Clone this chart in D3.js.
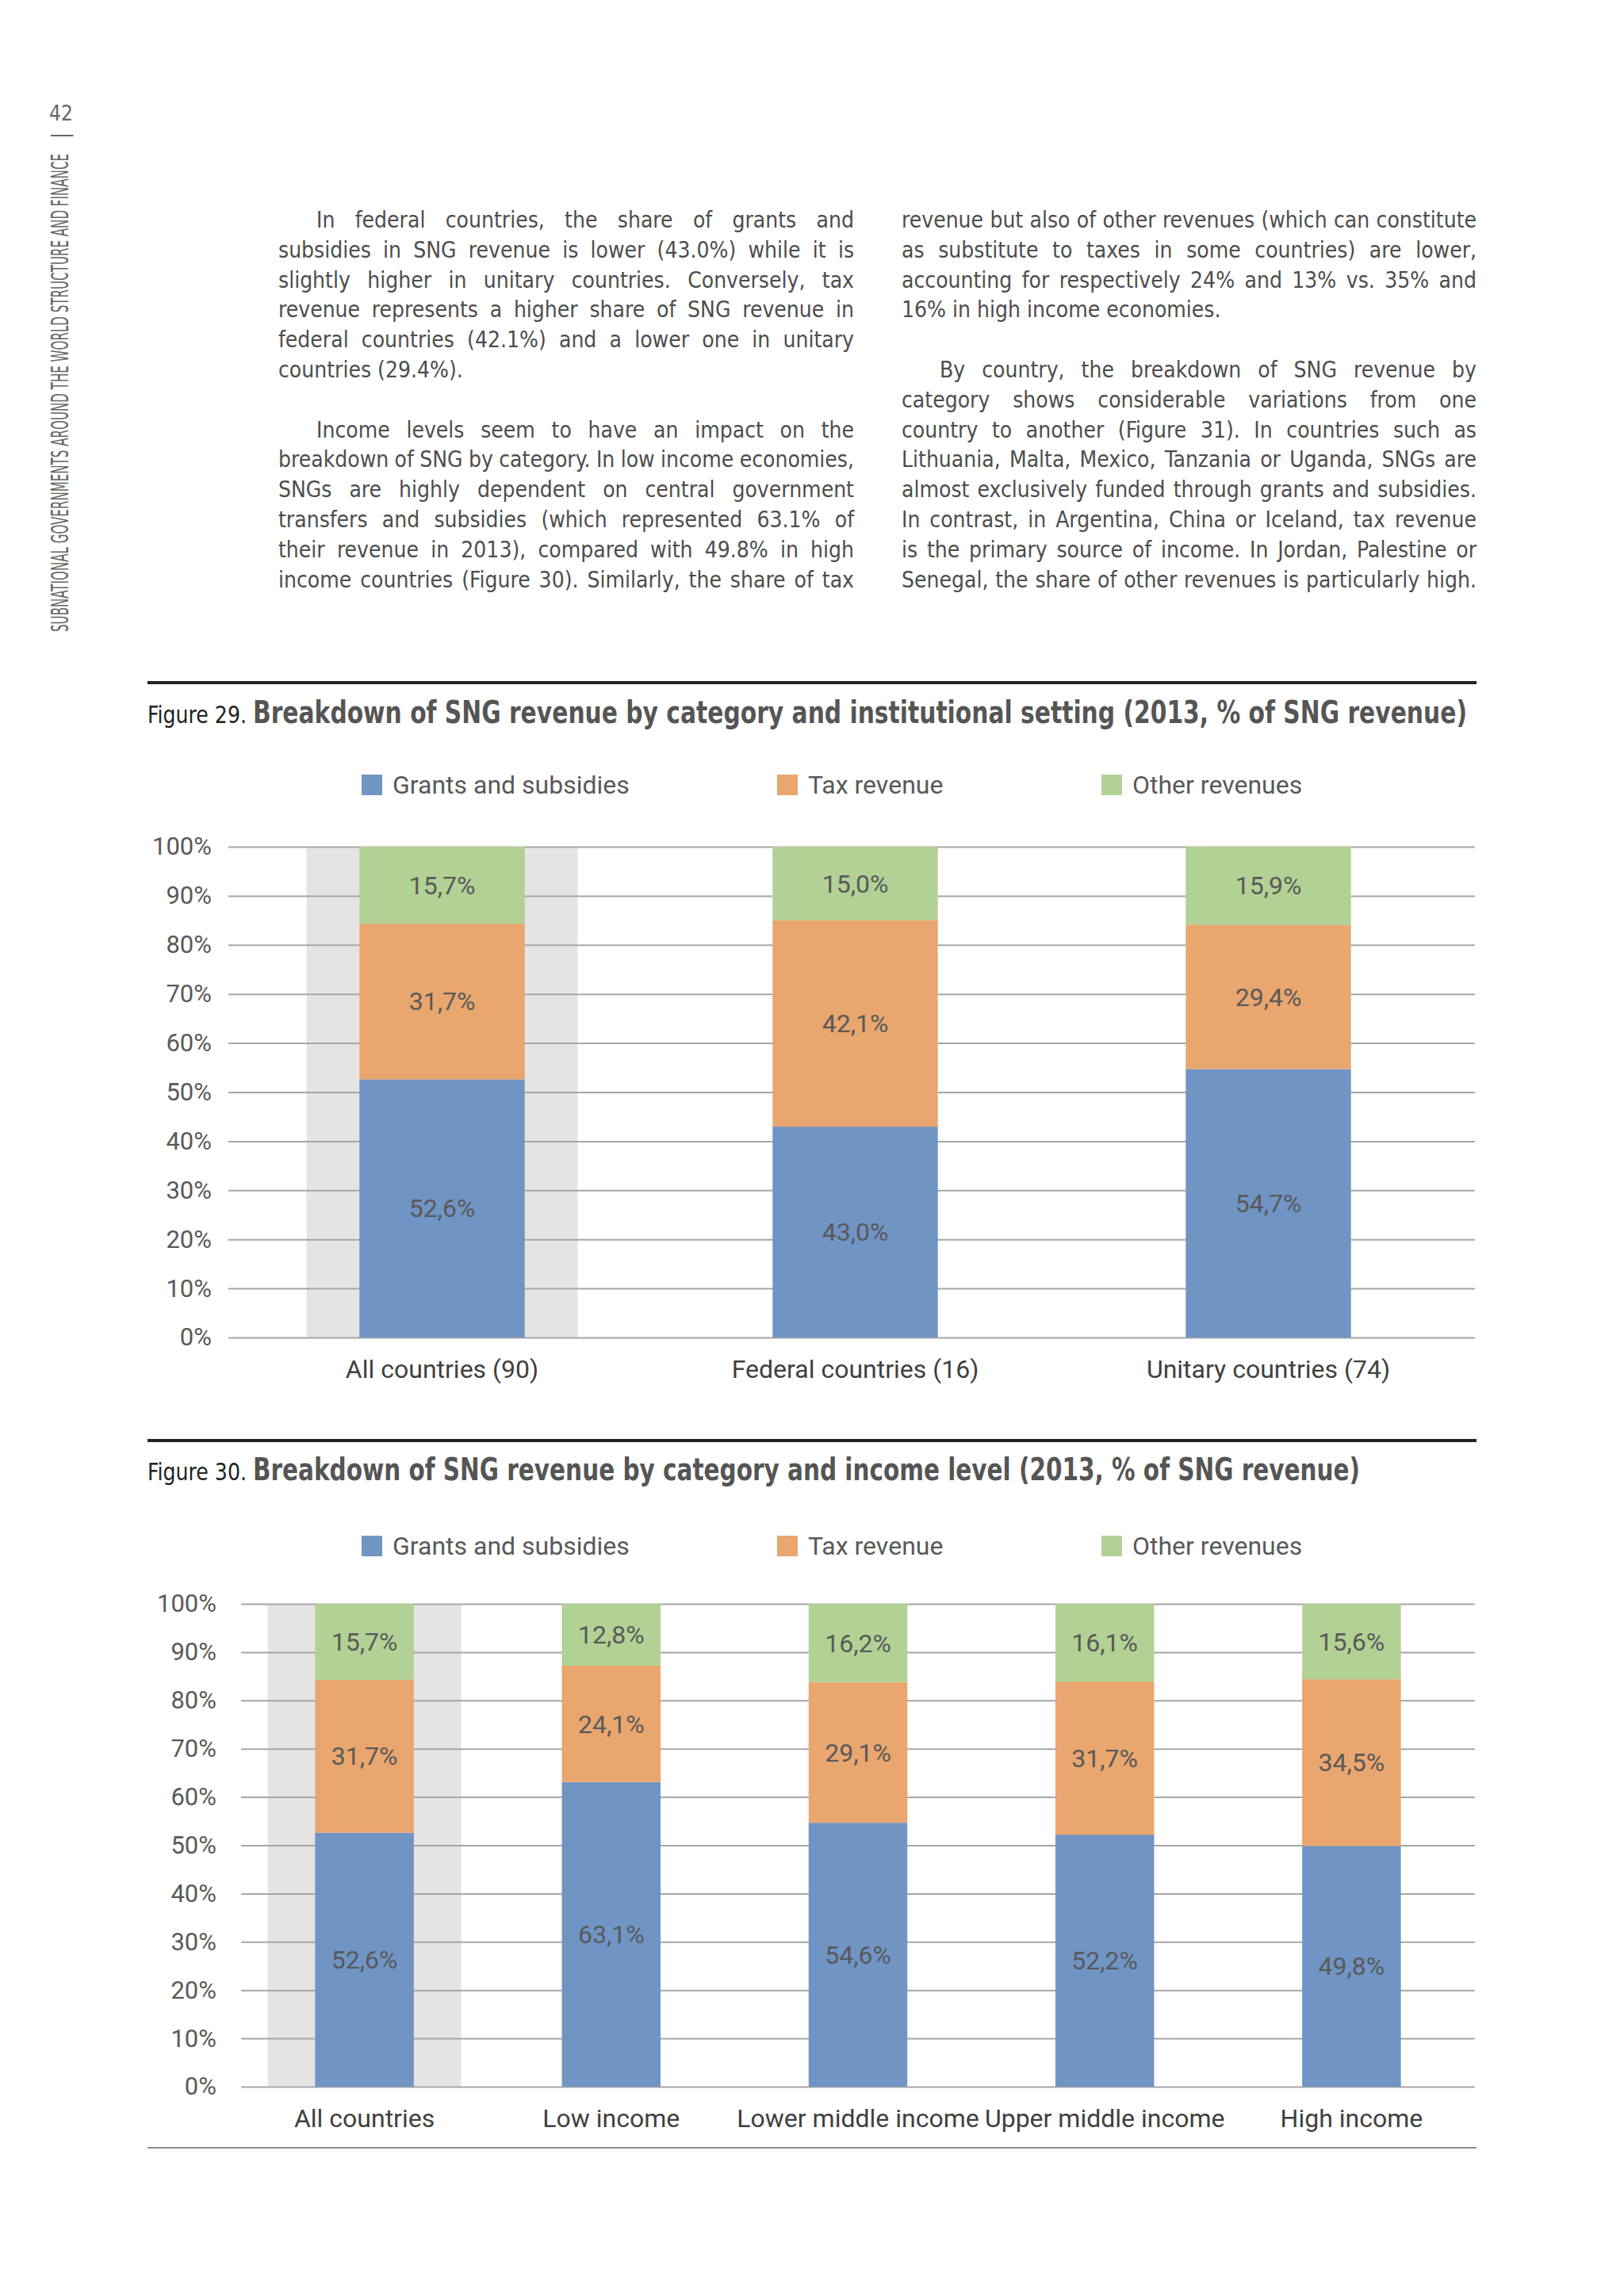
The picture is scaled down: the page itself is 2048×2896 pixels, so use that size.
<!DOCTYPE html>
<html>
<head>
<meta charset="utf-8">
<script src="https://cdn.jsdelivr.net/npm/d3@7"></script>
<style>
  body { margin: 0; background: #fff; }
  svg { display: block; }
</style>
</head>
<body>
<script>
// series names (legend)
const seriesKeys = ["grants", "tax", "other"]
const seriesNames = ["Grants and subsidies", "Tax revenue", "Other revenues"]
const seriesColors = ["#7094c4", "#e9a66e", "#b2d194"]

// figure 29 - institutional setting
const fig29Categories = ["All countries (90)", "Federal countries (16)", "Unitary countries (74)"]
const fig29Grants = [52.6, 43.0, 54.7]
const fig29Tax = [31.7, 42.1, 29.4]
const fig29Other = [15.7, 15.0, 15.9]

// figure 30 - income level
const fig30Categories = ["All countries", "Low income", "Lower middle income", "Upper middle income", "High income"]
const fig30Grants = [52.6, 63.1, 54.6, 52.2, 49.8]
const fig30Tax = [31.7, 24.1, 29.1, 31.7, 34.5]
const fig30Other = [15.7, 12.8, 16.2, 16.1, 15.6]

const yTicks = [0, 10, 20, 30, 40, 50, 60, 70, 80, 90, 100]

// body text, one entry per printed line
const leftColumn = [
  ["In federal countries, the share of grants and", "subsidies in SNG revenue is lower (43.0%) while it is", "slightly higher in unitary countries. Conversely, tax", "revenue represents a higher share of SNG revenue in", "federal countries (42.1%) and a lower one in unitary", "countries (29.4%)."],
  ["Income levels seem to have an impact on the", "breakdown of SNG by category. In low income economies,", "SNGs are highly dependent on central government", "transfers and subsidies (which represented 63.1% of", "their revenue in 2013), compared with 49.8% in high", "income countries (Figure 30). Similarly, the share of tax"]
]
const rightColumn = [
  ["revenue but also of other revenues (which can constitute", "as substitute to taxes in some countries) are lower,", "accounting for respectively 24% and 13% vs. 35% and", "16% in high income economies."],
  ["By country, the breakdown of SNG revenue by", "category shows considerable variations from one", "country to another (Figure 31). In countries such as", "Lithuania, Malta, Mexico, Tanzania or Uganda, SNGs are", "almost exclusively funded through grants and subsidies.", "In contrast, in Argentina, China or Iceland, tax revenue", "is the primary source of income. In Jordan, Palestine or", "Senegal, the share of other revenues is particularly high."]
]
// first line indented? / last line runs to the right margin?
const leftIndented = [true, true]
const rightIndented = [false, true]
const leftLastJustified = [false, true]
const rightLastJustified = [false, true]

const chartFont = "Roboto, 'Noto Sans', sans-serif"
const condFont = "'Liberation Sans Narrow', 'DejaVu Sans Condensed', sans-serif"

const svg = d3.select("body").append("svg")
  .attr("width", 2048)
  .attr("height", 2896)

// ---------- side header ----------
svg.append("text")
  .attr("x", 77).attr("y", 152)
  .attr("text-anchor", "middle")
  .style("font-family", condFont)
  .style("font-size", "26px")
  .style("fill", "#666")
  .text("42")

svg.append("text")
  .attr("transform", "translate(86,171) rotate(-90)")
  .attr("text-anchor", "middle")
  .style("font-family", condFont)
  .style("font-size", "28px")
  .style("fill", "#666")
  .text("|")

svg.append("text")
  .attr("transform", "translate(86,797) rotate(-90)")
  .attr("textLength", 603)
  .attr("lengthAdjust", "spacingAndGlyphs")
  .style("font-family", condFont)
  .style("font-size", "30px")
  .style("font-weight", 300)
  .style("fill", "#666")
  .text("SUBNATIONAL GOVERNMENTS AROUND THE WORLD STRUCTURE AND FINANCE")

// ---------- body text ----------
const bodySize = 28
const lineGap = 37.8
const firstBaseline = 287
const indent = 48

const measurer = svg.append("text")
  .style("font-family", condFont)
  .style("font-size", bodySize + "px")
  .attr("x", -1000).attr("y", -1000)

function textWidth(s) {
  measurer.text(s)
  return measurer.node().getComputedTextLength()
}

const spaceWidth = textWidth("a a") - textWidth("aa")

function drawColumn(paragraphs, indented, lastJustified, x0, x1) {
  let row = 0
  paragraphs.forEach((lines, p) => {
    lines.forEach((line, i) => {
      const words = line.split(" ")
      const widths = words.map(textWidth)
      const start = (i == 0 && indented[p]) ? x0 + indent : x0
      const avail = x1 - start
      const isLast = i == lines.length - 1
      const justify = !isLast || lastJustified[p]
      let gap = spaceWidth
      let sx = 1
      if (justify && words.length > 1) {
        gap = (avail - d3.sum(widths)) / (words.length - 1)
        // line too long for the column: squeeze it a little
        const minGap = spaceWidth * 0.6
        if (gap < minGap) {
          gap = minGap
          sx = avail / (d3.sum(widths) + minGap * (words.length - 1))
        }
      }
      const t = svg.append("text")
        .attr("transform", `translate(${start},${firstBaseline + row * lineGap}) scale(${sx},1)`)
        .style("font-family", condFont)
        .style("font-size", bodySize + "px")
        .style("fill", "#4d4d4d")
      let cx = 0
      words.forEach((w, k) => {
        t.append("tspan").attr("x", cx).attr("y", 0).text(w)
        cx += widths[k] + gap
      })
      row++
    })
    row++ // blank line between paragraphs
  })
}

drawColumn(leftColumn, leftIndented, leftLastJustified, 351, 1077)
drawColumn(rightColumn, rightIndented, rightLastJustified, 1137, 1862)
measurer.remove()

// ---------- charts ----------
const fmt = d3.format(".1f")

function drawChart(cfg) {
  const g = svg.append("g")

  // heavy rule above figure
  g.append("line")
    .attr("x1", 186).attr("x2", 1862)
    .attr("y1", cfg.ruleY).attr("y2", cfg.ruleY)
    .attr("stroke", "#222").attr("stroke-width", 4)

  g.append("text")
    .attr("x", 186).attr("y", cfg.titleY)
    .attr("textLength", 125)
    .attr("lengthAdjust", "spacingAndGlyphs")
    .style("font-family", condFont)
    .style("font-size", "30px")
    .style("fill", "#222")
    .text(cfg.figLabel)

  g.append("text")
    .attr("x", 319).attr("y", cfg.titleY)
    .attr("textLength", cfg.titleWidth)
    .attr("lengthAdjust", "spacingAndGlyphs")
    .style("font-family", condFont)
    .style("font-size", "39px")
    .style("font-weight", "bold")
    .style("fill", "#555")
    .text(cfg.title)

  // legend
  const legend = g.selectAll(".legend")
    .data(seriesNames)
    .join("g")
      .attr("transform", (d, i) => `translate(${cfg.legendX[i]},${cfg.legendY})`)
  legend.append("rect")
    .attr("x", 0).attr("y", -13)
    .attr("width", 26).attr("height", 26)
    .attr("fill", (d, i) => seriesColors[i])
  legend.append("text")
    .attr("x", 39).attr("dy", "0.35em")
    .style("font-family", chartFont)
    .style("font-size", "32px")
    .style("fill", "#595959")
    .text(d => d)

  const rows = cfg.categories.map((c, i) => ({
    cat: c, grants: cfg.grants[i], tax: cfg.tax[i], other: cfg.other[i]
  }))

  const x = d3.scaleBand()
    .domain(cfg.categories)
    .range([cfg.left, cfg.right])

  const y = d3.scaleLinear()
    .domain([0, 1])
    .range([cfg.bottom, cfg.top])

  const bw = x.bandwidth()

  // grey highlight behind first column
  g.append("rect")
    .attr("x", x(cfg.categories[0]) + (bw - cfg.highlight) / 2)
    .attr("width", cfg.highlight)
    .attr("y", y(1))
    .attr("height", y(0) - y(1))
    .attr("fill", "#e6e3e3")

  // gridlines + tick labels
  const axis = g.append("g")
    .attr("transform", `translate(${cfg.gridLeft},0)`)
    .call(d3.axisLeft(y)
      .tickValues(yTicks.map(d => d / 100))
      .tickSize(-(cfg.right - cfg.gridLeft))
      .tickPadding(cfg.tickPad)
      .tickFormat(d => Math.round(d * 100) + "%"))
  axis.select(".domain").remove()
  axis.selectAll(".tick line")
    .attr("stroke", "#a6a6a6")
    .attr("stroke-width", 2)
  axis.selectAll(".tick text")
    .style("font-family", chartFont)
    .style("font-size", "31px")
    .style("fill", "#595959")

  const stacked = d3.stack()
    .keys(seriesKeys)
    .offset(d3.stackOffsetExpand)(rows)

  const barW = bw * 0.4
  const layers = g.selectAll(".layer")
    .data(stacked)
    .join("g")
      .attr("fill", (d, i) => seriesColors[i])

  layers.selectAll("rect")
    .data(d => d)
    .join("rect")
      .attr("x", d => x(d.data.cat) + (bw - barW) / 2)
      .attr("width", barW)
      .attr("y", d => y(d[1]))
      .attr("height", d => y(d[0]) - y(d[1]))

  layers.each(function (layer) {
    d3.select(this).selectAll("text")
      .data(layer)
      .join("text")
        .attr("x", d => x(d.data.cat) + bw / 2)
        .attr("y", d => y((d[0] + d[1]) / 2))
        .attr("dy", "0.35em")
        .attr("text-anchor", "middle")
        .style("font-family", chartFont)
        .style("font-size", "32px")
        .style("fill", "#595959")
        .text(d => fmt(d.data[layer.key]).replace(".", ",") + "%")
  })

  // category labels
  g.selectAll(".cat")
    .data(cfg.categories)
    .join("text")
      .attr("x", d => x(d) + bw / 2)
      .attr("y", cfg.catY)
      .attr("dy", "0.35em")
      .attr("text-anchor", "middle")
      .style("font-family", chartFont)
      .style("font-size", "32px")
      .style("fill", "#404040")
      .text(d => d)
}

drawChart({
  figLabel: "Figure 29.",
  title: "Breakdown of SNG revenue by category and institutional setting (2013, % of SNG revenue)",
  titleWidth: 1531,
  ruleY: 861, titleY: 912,
  legendX: [456, 980, 1389], legendY: 990,
  categories: fig29Categories, grants: fig29Grants, tax: fig29Tax, other: fig29Other,
  gridLeft: 288, left: 297, right: 1860, top: 1068, bottom: 1687,
  tickPad: 21, highlight: 342, catY: 1727
})

drawChart({
  figLabel: "Figure 30.",
  title: "Breakdown of SNG revenue by category and income level (2013, % of SNG revenue)",
  titleWidth: 1396,
  ruleY: 1817, titleY: 1867,
  legendX: [456, 980, 1389], legendY: 1950,
  categories: fig30Categories, grants: fig30Grants, tax: fig30Tax, other: fig30Other,
  gridLeft: 304, left: 304, right: 1860, top: 2023, bottom: 2632,
  tickPad: 31, highlight: 244, catY: 2672
})

// thin closing rule under figure 30
svg.append("line")
  .attr("x1", 186).attr("x2", 1862)
  .attr("y1", 2709).attr("y2", 2709)
  .attr("stroke", "#666").attr("stroke-width", 1.5)
</script>
</body>
</html>
